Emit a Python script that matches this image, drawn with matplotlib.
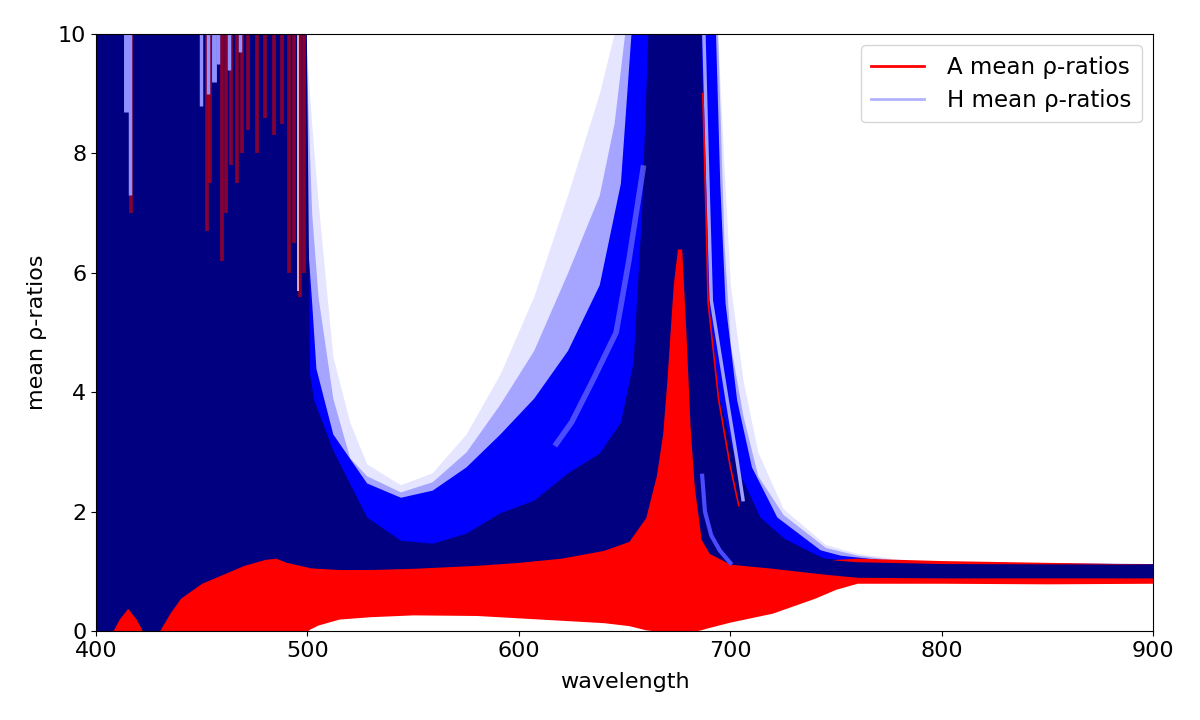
import numpy as np
import matplotlib.pyplot as plt
from matplotlib.lines import Line2D

# Envelopes of the spectra (wavelength in nm, ratio)
# A spectra (red band)
red_x = [400, 408, 411, 415, 419, 422, 430, 435, 440, 450, 460, 470, 480, 485, 490,
         500, 501, 505, 515, 530, 550, 580, 600, 620, 640, 652, 660, 665, 668, 670,
         673, 675, 677, 679, 681, 683, 686, 690, 700, 720, 740, 750, 760, 780,
         800, 850, 900]
red_low = [0, 0, 0, 0, 0, 0, 0, 0, 0, 0, 0, 0, 0, 0, 0,
           0, 0.03, 0.1, 0.2, 0.24, 0.27, 0.26, 0.22, 0.18, 0.14, 0.09, 0.02, 0, 0, 0,
           0, 0, 0, 0, 0, 0, 0.02, 0.06, 0.15, 0.3, 0.55, 0.7, 0.8, 0.8,
           0.8, 0.79, 0.8]
red_high = [0, 0, 0.2, 0.38, 0.2, 0, 0, 0.3, 0.55, 0.8, 0.95, 1.1, 1.2, 1.22, 1.15,
            1.07, 1.06, 1.05, 1.03, 1.03, 1.05, 1.1, 1.15, 1.22, 1.35, 1.5, 1.9, 2.6, 3.3, 4.2,
            5.8, 6.4, 6.4, 5.0, 3.4, 2.4, 1.6, 1.4, 1.2, 1.15, 1.12, 1.2, 1.22, 1.2,
            1.18, 1.15, 1.12]

# H spectra: dense core (navy)
navy_x = [400, 496, 499.5, 501, 503, 512, 528, 544, 559, 575, 591, 607, 623, 638,
          648, 654, 658, 661, 686, 689.5, 695, 703, 714, 731.6, 745, 760, 800, 900]
navy_top = [10, 10, 10, 4.3, 3.87, 3.03, 1.91, 1.52, 1.47, 1.64, 1.98, 2.19, 2.65, 2.98,
            3.5, 4.5, 7.0, 10, 10, 5.5, 3.87, 2.75, 1.91, 1.36, 1.22, 1.17, 1.13, 1.12]
navy_low = [0, 0, 0, 0.5, 0.5, 0.5, 0.5, 0.5, 0.5, 0.5, 0.5, 0.5, 0.5, 0.5,
            0.5, 0.5, 0.5, 0.5, 0.5, 0.9, 0.9, 0.9, 0.9, 0.9, 0.9, 0.9, 0.9, 0.9]

# navy part lying over the red band on the right
tail_x = [686, 690, 700, 720, 745, 760, 800, 900]
tail_low = [1.55, 1.3, 1.12, 1.05, 0.95, 0.9, 0.89, 0.89]
tail_top = [2.5, 2.5, 2.5, 1.65, 1.2, 1.16, 1.13, 1.12]

# H spectra: solid blue spread
blue_x = [499, 502, 504, 512, 528, 544, 559, 575, 591, 607, 623, 638, 648, 653,
          690, 693, 695, 697.5, 703, 710, 722, 742.5, 752, 770, 800, 900]
blue_top = [7.0, 5.5, 4.4, 3.3, 2.48, 2.24, 2.36, 2.75, 3.3, 3.9, 4.7, 5.8, 7.5, 10,
            10, 10, 7.5, 5.5, 3.87, 2.75, 1.91, 1.36, 1.27, 1.2, 1.15, 1.13]

# H spectra: faint outliers (halo)
halo_x = [499, 502, 505, 512, 520, 528, 544, 559, 575, 591, 607, 623, 638, 645, 650,
          690, 694, 697, 700, 706, 713, 725, 745, 760, 780]
halo_outer = [10, 8.5, 7.2, 4.6, 3.5, 2.8, 2.45, 2.65, 3.3, 4.3, 5.6, 7.3, 9.0, 10, 10,
              10, 10, 7.8, 5.8, 4.2, 3.0, 2.05, 1.45, 1.3, 1.2]
halo_inner = [10, 7.0, 5.6, 3.9, 2.9, 2.6, 2.33, 2.5, 3.0, 3.8, 4.7, 6.0, 7.3, 8.5, 10,
              10, 10, 6.5, 4.8, 3.6, 2.6, 1.95, 1.4, 1.27, 1.18]

# single outlying spectra going off the top
lblue_spike_w = [414.5, 416, 449.7, 453, 456, 457.5, 463, 468]
lblue_spike_lo = [8.7, 7.3, 8.8, 9.0, 9.2, 9.5, 9.4, 9.7]
lblue_spike_lw = [5, 2.5, 2.5, 2.5, 3.5, 2.5, 2.5, 2.5]
red_spike_w = [416.5, 452.5, 454, 459.5, 461.5, 464, 466.5, 469, 472, 476, 480, 484,
               488, 491.5, 493.5, 496.5, 498.5]
red_spike_lo = [7.0, 6.7, 7.5, 6.2, 7.0, 7.8, 7.5, 8.0, 8.4, 8.0, 8.6, 8.3,
                8.5, 6.0, 6.5, 5.6, 6.0]

# lighter streaks inside the bands
streak1_x = [617, 625, 635, 646, 652, 659]
streak1_y = [3.1, 3.5, 4.2, 5.0, 6.2, 7.8]
streak2_x = [687.5, 689, 691, 698.5, 703, 706]
streak2_y = [10, 8, 5.54, 3.87, 2.9, 2.2]
streak3_x = [686.7, 688, 691, 695, 700]
streak3_y = [2.6, 2.0, 1.6, 1.35, 1.14]
redline_x = [687, 688.5, 689.5, 694.5, 700, 704]
redline_y = [9.0, 7.0, 5.5, 3.87, 2.75, 2.1]

fig = plt.figure(figsize=(12, 7.2), dpi=100)
ax = fig.add_axes([0.08, 0.1236, 0.881, 0.8292])

ax.fill_between(halo_x, 1.0, halo_outer, color='blue', alpha=0.1, lw=0)
ax.fill_between(halo_x, 1.0, halo_inner, color='blue', alpha=0.28, lw=0)
ax.fill_between(blue_x, 1.0, blue_top, color='#0000ff', lw=0)
ax.plot(streak1_x, streak1_y, color='#8080ff', lw=4, alpha=0.6, solid_capstyle='butt')

ax.fill_between(navy_x, navy_low, navy_top, color='#000080', lw=0)
ax.fill_between(red_x, red_low, red_high, color='#ff0000', lw=0)
ax.fill_between(tail_x, tail_low, tail_top, color='#000080', lw=0)

ax.plot(streak2_x, streak2_y, color='#a0a0ff', lw=2.5)
ax.plot(redline_x, redline_y, color='#ff0000', lw=1.2)
ax.plot(streak3_x, streak3_y, color='#4a4aff', lw=3)

ax.vlines(red_spike_w, red_spike_lo, 10, colors='#c00010', lw=2.6, alpha=0.7)
ax.vlines(lblue_spike_w, lblue_spike_lo, 10, colors='#9090ff', lw=lblue_spike_lw)
ax.vlines([495.5], [5.7], 10, colors='#ffc8c8', lw=1.2)

ax.set_xlim(400, 900)
ax.set_ylim(0, 10)
ax.set_xticks([400, 500, 600, 700, 800, 900])
ax.set_yticks([0, 2, 4, 6, 8, 10])
ax.tick_params(labelsize=16)
ax.set_xlabel('wavelength', fontsize=16, labelpad=8)
ax.set_ylabel('mean ρ-ratios', fontsize=16, labelpad=8)

handles = [Line2D([], [], color='red', lw=2),
           Line2D([], [], color='blue', lw=2, alpha=0.3)]
ax.legend(handles, ['A mean ρ-ratios', 'H mean ρ-ratios'], loc='upper right',
          fontsize=16.5, handlelength=2.3, handletextpad=1.0, borderpad=0.45,
          labelspacing=0.45)

fig.savefig('out.png', dpi=100)
